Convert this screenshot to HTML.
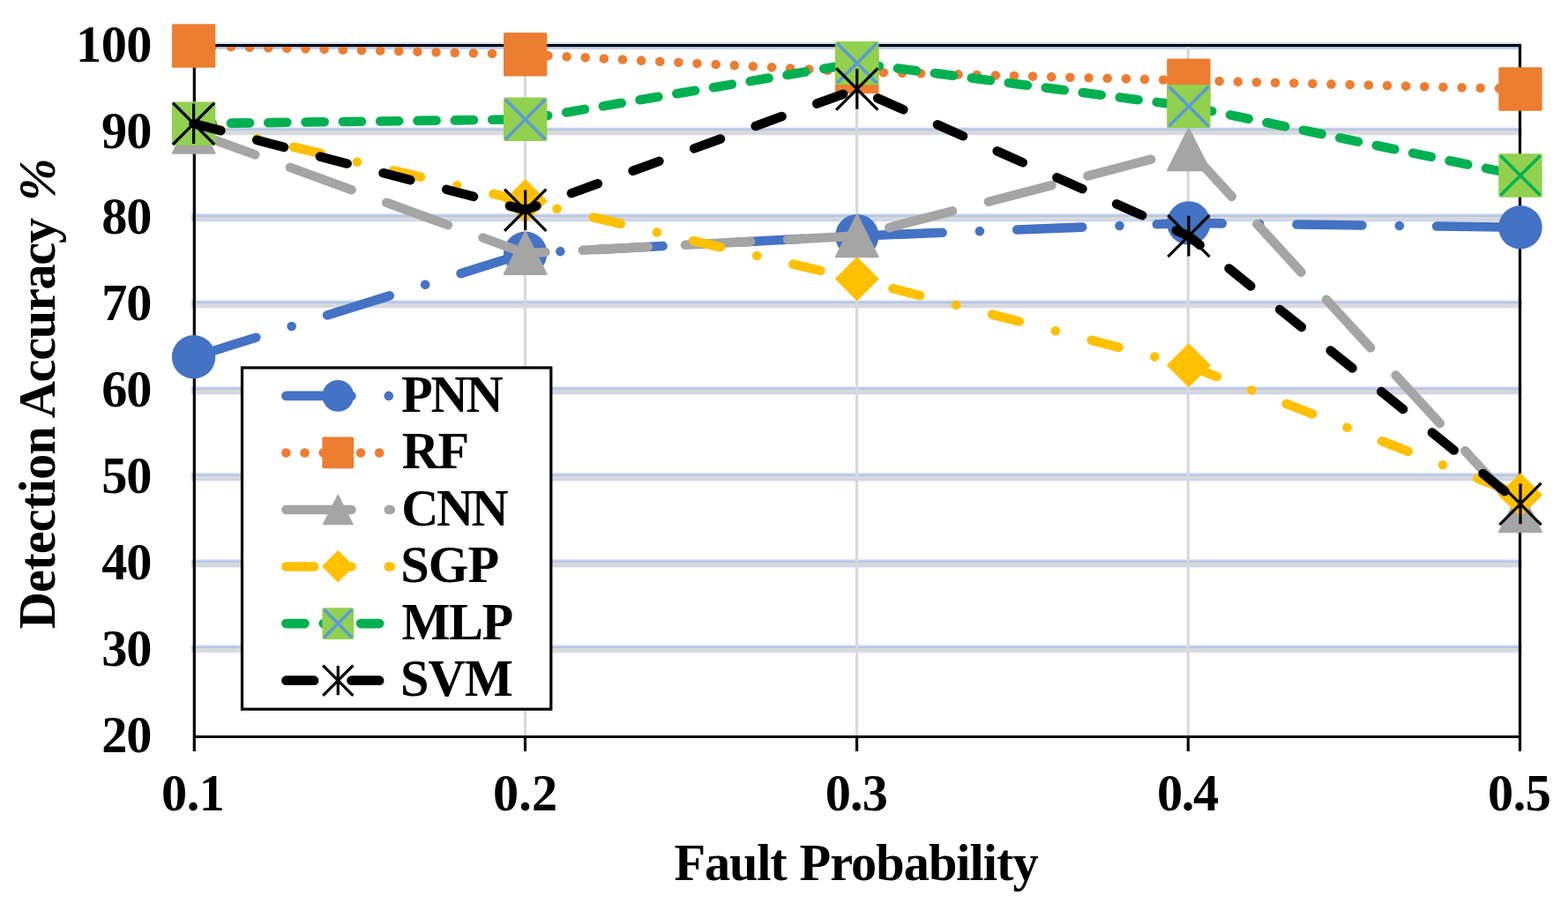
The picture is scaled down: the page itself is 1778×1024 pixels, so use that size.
<!DOCTYPE html>
<html><head><meta charset="utf-8"><title>Detection Accuracy vs Fault Probability</title>
<style>
html,body{margin:0;padding:0;background:#fff;}
body{width:1778px;height:1024px;overflow:hidden;}
svg{display:block;}
text{font-family:"Liberation Serif",serif;font-weight:bold;fill:#000;}
</style></head><body>
<svg width="1778" height="1024" viewBox="0 0 1778 1024">
<rect width="1778" height="1024" fill="#fff"/>
<defs><clipPath id="pc"><rect x="180.3" y="53.1" width="1583.2" height="784"/></clipPath></defs>

<g id="hgrid">
<rect x="217" y="47" width="1509" height="1" fill="#F4F6FC"/>
<rect x="217" y="48" width="1509" height="1" fill="#DDE5F4"/>
<rect x="217" y="49" width="1509" height="1" fill="#C5D5F0"/>
<rect x="217" y="53" width="1509" height="1" fill="#A8B9DC"/>
<rect x="217" y="54" width="1509" height="1" fill="#B9C8E8"/>
<rect x="217" y="55" width="1509" height="1" fill="#D5DEF2"/>
<rect x="217" y="56" width="1509" height="1" fill="#F0F3FB"/>
<rect x="217" y="143" width="1509" height="1" fill="#F8FAFD"/>
<rect x="217" y="144" width="1509" height="1" fill="#EAEFF9"/>
<rect x="217" y="145" width="1509" height="1" fill="#C8D4ED"/>
<rect x="217" y="146" width="1509" height="1" fill="#B8C8E8"/>
<rect x="217" y="147" width="1509" height="1" fill="#B2C6E7"/>
<rect x="217" y="148" width="1509" height="1" fill="#D9D9D9"/>
<rect x="217" y="149" width="1509" height="1" fill="#D9D9D9"/>
<rect x="217" y="150" width="1509" height="1" fill="#D9D9D9"/>
<rect x="217" y="151" width="1509" height="1" fill="#D9D9D9"/>
<rect x="217" y="152" width="1509" height="1" fill="#D3DDF0"/>
<rect x="217" y="153" width="1509" height="1" fill="#F3F5FB"/>
<rect x="217" y="241" width="1509" height="1" fill="#F8FAFD"/>
<rect x="217" y="242" width="1509" height="1" fill="#E3E9F6"/>
<rect x="217" y="243" width="1509" height="1" fill="#C5D1EC"/>
<rect x="217" y="244" width="1509" height="1" fill="#B8C8E8"/>
<rect x="217" y="245" width="1509" height="1" fill="#B4C7E7"/>
<rect x="217" y="246" width="1509" height="1" fill="#D9D9D9"/>
<rect x="217" y="247" width="1509" height="1" fill="#D9D9D9"/>
<rect x="217" y="248" width="1509" height="1" fill="#D9D9D9"/>
<rect x="217" y="249" width="1509" height="1" fill="#CBD5E8"/>
<rect x="217" y="250" width="1509" height="1" fill="#C9D5EE"/>
<rect x="217" y="251" width="1509" height="1" fill="#EEF1FA"/>
<rect x="217" y="339" width="1509" height="1" fill="#F8FAFD"/>
<rect x="217" y="340" width="1509" height="1" fill="#EAEFF9"/>
<rect x="217" y="341" width="1509" height="1" fill="#C8D4ED"/>
<rect x="217" y="342" width="1509" height="1" fill="#B8C8E8"/>
<rect x="217" y="343" width="1509" height="1" fill="#B2C6E7"/>
<rect x="217" y="344" width="1509" height="1" fill="#D9D9D9"/>
<rect x="217" y="345" width="1509" height="1" fill="#D9D9D9"/>
<rect x="217" y="346" width="1509" height="1" fill="#D9D9D9"/>
<rect x="217" y="347" width="1509" height="1" fill="#D9D9D9"/>
<rect x="217" y="348" width="1509" height="1" fill="#D3DDF0"/>
<rect x="217" y="349" width="1509" height="1" fill="#F3F5FB"/>
<rect x="217" y="437" width="1509" height="1" fill="#F8FAFD"/>
<rect x="217" y="438" width="1509" height="1" fill="#E3E9F6"/>
<rect x="217" y="439" width="1509" height="1" fill="#C5D1EC"/>
<rect x="217" y="440" width="1509" height="1" fill="#B8C8E8"/>
<rect x="217" y="441" width="1509" height="1" fill="#B4C7E7"/>
<rect x="217" y="442" width="1509" height="1" fill="#D9D9D9"/>
<rect x="217" y="443" width="1509" height="1" fill="#D9D9D9"/>
<rect x="217" y="444" width="1509" height="1" fill="#D9D9D9"/>
<rect x="217" y="445" width="1509" height="1" fill="#CBD5E8"/>
<rect x="217" y="446" width="1509" height="1" fill="#C9D5EE"/>
<rect x="217" y="447" width="1509" height="1" fill="#EEF1FA"/>
<rect x="217" y="535" width="1509" height="1" fill="#F8FAFD"/>
<rect x="217" y="536" width="1509" height="1" fill="#E3E9F6"/>
<rect x="217" y="537" width="1509" height="1" fill="#C5D1EC"/>
<rect x="217" y="538" width="1509" height="1" fill="#B8C8E8"/>
<rect x="217" y="539" width="1509" height="1" fill="#B4C7E7"/>
<rect x="217" y="540" width="1509" height="1" fill="#D9D9D9"/>
<rect x="217" y="541" width="1509" height="1" fill="#D9D9D9"/>
<rect x="217" y="542" width="1509" height="1" fill="#D9D9D9"/>
<rect x="217" y="543" width="1509" height="1" fill="#CBD5E8"/>
<rect x="217" y="544" width="1509" height="1" fill="#C9D5EE"/>
<rect x="217" y="545" width="1509" height="1" fill="#EEF1FA"/>
<rect x="217" y="633" width="1509" height="1" fill="#F8FAFD"/>
<rect x="217" y="634" width="1509" height="1" fill="#E3E9F6"/>
<rect x="217" y="635" width="1509" height="1" fill="#C5D1EC"/>
<rect x="217" y="636" width="1509" height="1" fill="#B8C8E8"/>
<rect x="217" y="637" width="1509" height="1" fill="#B4C7E7"/>
<rect x="217" y="638" width="1509" height="1" fill="#D9D9D9"/>
<rect x="217" y="639" width="1509" height="1" fill="#D9D9D9"/>
<rect x="217" y="640" width="1509" height="1" fill="#D9D9D9"/>
<rect x="217" y="641" width="1509" height="1" fill="#CBD5E8"/>
<rect x="217" y="642" width="1509" height="1" fill="#C9D5EE"/>
<rect x="217" y="643" width="1509" height="1" fill="#EEF1FA"/>
<rect x="217" y="730" width="1509" height="1" fill="#F8FAFD"/>
<rect x="217" y="731" width="1509" height="1" fill="#EAEFF9"/>
<rect x="217" y="732" width="1509" height="1" fill="#C8D4ED"/>
<rect x="217" y="733" width="1509" height="1" fill="#B8C8E8"/>
<rect x="217" y="734" width="1509" height="1" fill="#B2C6E7"/>
<rect x="217" y="735" width="1509" height="1" fill="#D9D9D9"/>
<rect x="217" y="736" width="1509" height="1" fill="#D9D9D9"/>
<rect x="217" y="737" width="1509" height="1" fill="#D9D9D9"/>
<rect x="217" y="738" width="1509" height="1" fill="#D9D9D9"/>
<rect x="217" y="739" width="1509" height="1" fill="#D3DDF0"/>
<rect x="217" y="740" width="1509" height="1" fill="#F3F5FB"/>
</g>
<g id="vgrid" stroke="#D9D9D9" stroke-width="3.2">
<line x1="595.5" y1="51.5" x2="595.5" y2="835.5"/>
<line x1="971.6" y1="51.5" x2="971.6" y2="835.5"/>
<line x1="1347.3" y1="51.5" x2="1347.3" y2="835.5"/>
</g>
<g id="axes" stroke="#000" stroke-width="3.2" fill="none">
<path d="M218.7 51.5H1725.1M220.3 51.5V852M1723.5 51.5V852M220.3 835.5H1723.5"/>
<line x1="595.5" y1="835.5" x2="595.5" y2="852"/>
<line x1="971.6" y1="835.5" x2="971.6" y2="852"/>
<line x1="1347.3" y1="835.5" x2="1347.3" y2="852"/>
</g>
<g id="s-PNN">
<path d="M219.6 404.8L595.7 287.2L971.8 267.6L1347.9 252.9L1724 257.8" fill="none" stroke="#4472C4" stroke-width="10.58" stroke-linecap="round" stroke-linejoin="round" stroke-dasharray="74.06 42.32 0 42.32" clip-path="url(#pc)"/>
<circle cx="219.6" cy="404.8" r="24.7" fill="#4472C4"/>
<circle cx="595.7" cy="287.2" r="24.7" fill="#4472C4"/>
<circle cx="971.8" cy="267.6" r="24.7" fill="#4472C4"/>
<circle cx="1347.9" cy="252.9" r="24.7" fill="#4472C4"/>
<circle cx="1724" cy="257.8" r="24.7" fill="#4472C4"/>
</g>
<g id="s-RF">
<path d="M219.6 52L595.7 61.8L971.8 81.4L1347.9 91.2L1724 101" fill="none" stroke="#ED7D31" stroke-width="10.58" stroke-linecap="round" stroke-linejoin="round" stroke-dasharray="0 21.16" clip-path="url(#pc)"/>
<rect x="194.9" y="27.3" width="49.4" height="49.4" rx="1.5" fill="#ED7D31"/>
<rect x="571" y="37.1" width="49.4" height="49.4" rx="1.5" fill="#ED7D31"/>
<rect x="947.1" y="56.7" width="49.4" height="49.4" rx="1.5" fill="#ED7D31"/>
<rect x="1323.2" y="66.5" width="49.4" height="49.4" rx="1.5" fill="#ED7D31"/>
<rect x="1699.3" y="76.3" width="49.4" height="49.4" rx="1.5" fill="#ED7D31"/>
</g>
<g id="s-CNN">
<path d="M219.6 150L595.7 287.2L971.8 267.6L1347.9 169.6L1724 579.63" fill="none" stroke="#A5A5A5" stroke-width="10.58" stroke-linecap="round" stroke-linejoin="round" stroke-dasharray="74.06 42.32" clip-path="url(#pc)"/>
<path d="M219.6 125.7L243.7 173.81H195.5Z" fill="#A5A5A5" stroke="#A5A5A5" stroke-width="1.79" stroke-linejoin="round"/>
<path d="M595.7 262.9L619.8 311.01H571.6Z" fill="#A5A5A5" stroke="#A5A5A5" stroke-width="1.79" stroke-linejoin="round"/>
<path d="M971.8 243.3L995.9 291.41H947.7Z" fill="#A5A5A5" stroke="#A5A5A5" stroke-width="1.79" stroke-linejoin="round"/>
<path d="M1347.9 145.3L1372 193.41H1323.8Z" fill="#A5A5A5" stroke="#A5A5A5" stroke-width="1.79" stroke-linejoin="round"/>
<path d="M1724 555.33L1748.1 603.44H1699.9Z" fill="#A5A5A5" stroke="#A5A5A5" stroke-width="1.79" stroke-linejoin="round"/>
</g>
<g id="s-SGP">
<path d="M219.6 140.2L595.7 228.4L971.8 316.6L1347.9 414.6L1724 561.6" fill="none" stroke="#FFC000" stroke-width="10.58" stroke-linecap="round" stroke-linejoin="round" stroke-dasharray="31.74 42.32 0 42.32" clip-path="url(#pc)"/>
<path d="M219.6 115L244.4 139.8L219.6 164.6L194.8 139.8Z" fill="#FFC000" stroke="#FFC000" stroke-width="0.6" stroke-linejoin="round"/>
<path d="M595.7 203.2L620.5 228L595.7 252.8L570.9 228Z" fill="#FFC000" stroke="#FFC000" stroke-width="0.6" stroke-linejoin="round"/>
<path d="M971.8 291.4L996.6 316.2L971.8 341L947 316.2Z" fill="#FFC000" stroke="#FFC000" stroke-width="0.6" stroke-linejoin="round"/>
<path d="M1347.9 389.4L1372.7 414.2L1347.9 439L1323.1 414.2Z" fill="#FFC000" stroke="#FFC000" stroke-width="0.6" stroke-linejoin="round"/>
<path d="M1724 536.4L1748.8 561.2L1724 586L1699.2 561.2Z" fill="#FFC000" stroke="#FFC000" stroke-width="0.6" stroke-linejoin="round"/>
</g>
<g id="s-MLP">
<path d="M219.6 140.2L595.7 135.3L971.8 71.6L1347.9 120.6L1724 199" fill="none" stroke="#00B050" stroke-width="10.58" stroke-linecap="round" stroke-linejoin="round" stroke-dasharray="21.16 21.16" clip-path="url(#pc)"/>
<rect x="194.9" y="115.5" width="49.4" height="49.4" rx="1.5" fill="#92D050"/><path d="M197 117.6L242.2 162.8M242.2 117.6L197 162.8" stroke="#5B9BD5" stroke-width="3.6" fill="none"/>
<rect x="571" y="110.6" width="49.4" height="49.4" rx="1.5" fill="#92D050"/><path d="M573.1 112.7L618.3 157.9M618.3 112.7L573.1 157.9" stroke="#5B9BD5" stroke-width="3.6" fill="none"/>
<rect x="947.1" y="46.9" width="49.4" height="49.4" rx="1.5" fill="#92D050"/><path d="M949.2 49L994.4 94.2M994.4 49L949.2 94.2" stroke="#5B9BD5" stroke-width="3.6" fill="none"/>
<rect x="1323.2" y="95.9" width="49.4" height="49.4" rx="1.5" fill="#92D050"/><path d="M1325.3 98L1370.5 143.2M1370.5 98L1325.3 143.2" stroke="#5B9BD5" stroke-width="3.6" fill="none"/>
<rect x="1699.3" y="174.3" width="49.4" height="49.4" rx="1.5" fill="#92D050"/><path d="M1701.4 176.4L1746.6 221.6M1746.6 176.4L1701.4 221.6" stroke="#00B050" stroke-width="3.6" fill="none"/>
</g>
<g id="s-SVM">
<path d="M219.6 140.2L595.7 238.2L971.8 101L1347.9 267.6L1724 571.4" fill="none" stroke="#000000" stroke-width="10.58" stroke-linecap="round" stroke-linejoin="round" stroke-dasharray="31.74 42.32" clip-path="url(#pc)"/>
<path d="M195.99 116.59L243.21 163.81M243.21 116.59L195.99 163.81M219.6 117.38V163.02" stroke="#000000" stroke-width="3.2" fill="none"/>
<path d="M572.09 214.59L619.31 261.81M619.31 214.59L572.09 261.81M595.7 215.38V261.02" stroke="#000000" stroke-width="3.2" fill="none"/>
<path d="M948.19 77.39L995.41 124.61M995.41 77.39L948.19 124.61M971.8 78.18V123.82" stroke="#000000" stroke-width="3.2" fill="none"/>
<path d="M1324.29 243.99L1371.51 291.21M1371.51 243.99L1324.29 291.21M1347.9 244.78V290.42" stroke="#000000" stroke-width="3.2" fill="none"/>
<path d="M1700.39 547.79L1747.61 595.01M1747.61 547.79L1700.39 595.01M1724 548.58V594.22" stroke="#000000" stroke-width="3.2" fill="none"/>
</g>
<g id="legend">
<rect x="274.5" y="417" width="350.29999999999995" height="387.20000000000005" fill="#fff" stroke="#000" stroke-width="3.2"/>
<path d="M324.4 448.9H442.7" fill="none" stroke="#4472C4" stroke-width="10.58" stroke-linecap="round" stroke-dasharray="74.06 42.32 0 42.32"/>
<circle cx="383.3" cy="448.9" r="17.9" fill="#4472C4"/>
<text x="454.95" y="466.6" font-size="58.33" letter-spacing="-2.05">PNN</text>
<path d="M324.4 513.45H442.7" fill="none" stroke="#ED7D31" stroke-width="10.58" stroke-linecap="round" stroke-dasharray="0 21.16"/>
<rect x="365.4" y="495.55" width="35.8" height="35.8" rx="1.5" fill="#ED7D31"/>
<text x="455.78" y="531.15" font-size="58.33" letter-spacing="-1.5">RF</text>
<path d="M324.4 578H442.7" fill="none" stroke="#A5A5A5" stroke-width="10.58" stroke-linecap="round" stroke-dasharray="74.06 42.32"/>
<path d="M383.3 560.98L400.18 594.67H366.42Z" fill="#A5A5A5" stroke="#A5A5A5" stroke-width="1.25" stroke-linejoin="round"/>
<text x="455.31" y="595.7" font-size="58.33" letter-spacing="-2.51">CNN</text>
<path d="M324.4 642.55H442.7" fill="none" stroke="#FFC000" stroke-width="10.58" stroke-linecap="round" stroke-dasharray="31.74 42.32 0 42.32"/>
<path d="M383.3 624.29L401.27 642.26L383.3 660.23L365.33 642.26Z" fill="#FFC000" stroke="#FFC000" stroke-width="0.6" stroke-linejoin="round"/>
<text x="454.15" y="660.25" font-size="58.33" letter-spacing="-0.75">SGP</text>
<path d="M324.4 707.1H442.7" fill="none" stroke="#00B050" stroke-width="10.58" stroke-linecap="round" stroke-dasharray="21.16 21.16"/>
<rect x="365.4" y="689.2" width="35.8" height="35.8" rx="1.5" fill="#92D050"/><path d="M367.5 691.3L399.1 722.9M399.1 691.3L367.5 722.9" stroke="#5B9BD5" stroke-width="3.6" fill="none"/>
<text x="455.45" y="724.8" font-size="58.33" letter-spacing="-1.45">MLP</text>
<path d="M324.4 771.65H442.7" fill="none" stroke="#000000" stroke-width="10.58" stroke-linecap="round" stroke-dasharray="31.74 42.32"/>
<path d="M366.19 754.54L400.41 788.76M400.41 754.54L366.19 788.76M383.3 755.12V788.18" stroke="#000000" stroke-width="3.2" fill="none"/>
<text x="453.99" y="789.35" font-size="58.33" letter-spacing="-0.95">SVM</text>
</g>
<g id="ylabels" font-size="58.33">
<text x="86.03" y="69.7" letter-spacing="-0.5">100</text>
<text x="115.1" y="167.57" letter-spacing="-0.95">90</text>
<text x="115.13" y="265.45" letter-spacing="-0.95">80</text>
<text x="115.13" y="363.32" letter-spacing="-0.95">70</text>
<text x="115.13" y="461.2" letter-spacing="-0.95">60</text>
<text x="115.13" y="559.08" letter-spacing="-0.95">50</text>
<text x="115.13" y="656.95" letter-spacing="-0.95">40</text>
<text x="115.13" y="754.83" letter-spacing="-0.95">30</text>
<text x="115.13" y="852.7" letter-spacing="-0.95">20</text>
</g>
<g id="xlabels" font-size="58.33">
<text x="183.1" y="919.1" letter-spacing="-0.6">0.1</text>
<text x="559.1" y="919.1" letter-spacing="0.1">0.2</text>
<text x="935.78" y="919.1" letter-spacing="-0.85">0.3</text>
<text x="1311.94" y="919.1" letter-spacing="-1.3">0.4</text>
<text x="1687.05" y="919.1" letter-spacing="-0.55">0.5</text>
</g>
<text id="xtitle" y="998" font-size="58.33" style="white-space:pre"><tspan x="764.6" letter-spacing="-1.2">Fault </tspan><tspan x="906.55" letter-spacing="-0.98">Probability</tspan></text>
<text id="ytitle" transform="translate(62.4 712.5) rotate(-90)" y="0" font-size="58.33" style="white-space:pre"><tspan x="-0.78" letter-spacing="-0.81">Detection </tspan><tspan x="238.22" letter-spacing="-1.29">Accuracy </tspan><tspan x="484.56" font-style="italic">%</tspan></text>
</svg></body></html>
